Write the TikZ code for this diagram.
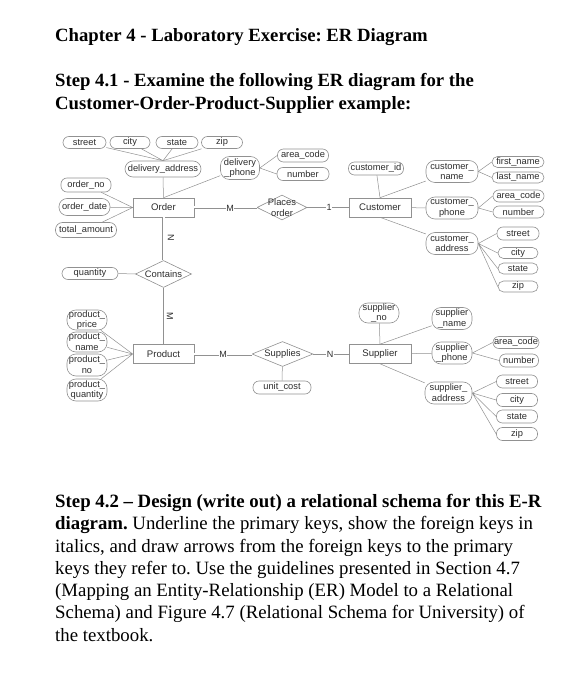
\documentclass[tikz,border=0pt]{standalone}
\usepackage{fontspec}
\setmainfont{Liberation Serif}
\setsansfont{Liberation Sans}
\usepackage{tikz}
\usetikzlibrary{shapes.geometric, positioning}
\definecolor{erline}{RGB}{145,145,145}
\definecolor{ertext}{RGB}{45,45,45}
\frenchspacing

\begin{document}
\begin{tikzpicture}[x=1pt,y=-1pt,
    ent/.style={rectangle,draw=erline,fill=white,line width=0.6pt,minimum width=61pt,minimum height=19pt,inner sep=0pt,font=\sffamily\fontsize{9.6}{10}\selectfont,text=ertext},
    rel/.style={diamond,draw=erline,fill=white,line width=0.6pt,inner sep=0pt},
    reltext/.style={font=\sffamily\fontsize{9.4}{10.5}\selectfont,text=ertext,align=center,inner sep=0pt},
    attr/.style={rectangle,rounded corners=6pt,draw=erline,fill=white,line width=0.6pt,minimum height=13pt,inner sep=0.3pt,font=\sffamily\fontsize{9.3}{10.8}\selectfont,text=ertext},
    attrtwo/.style={attr,rounded corners=9pt,minimum height=22pt,align=center},
    link/.style={draw=erline,line width=0.5pt},
    total/.style={link,double,double distance=2pt},
    card/.style={font=\sffamily\fontsize{9}{10}\selectfont,text=ertext,fill=white,inner sep=0.5pt},
    heading/.style={anchor=north west,inner sep=0pt,align=left,font=\bfseries\fontsize{18.7}{23}\selectfont}]
    \fill[white] (0,0) rectangle (569,700);
    \useasboundingbox (0,0) rectangle (569,700);

    % Testo
    \node[heading] (chapter) at (55,28) {Chapter 4 - Laboratory Exercise: ER Diagram};
    \node[heading] (step41) at (55,73) {Step 4.1 - Examine the following ER diagram for the\\Customer-Order-Product-Supplier example:};
    \node[heading,font=\fontsize{18.8}{22.3}\selectfont] (step42) at (55,494) {\textbf{Step 4.2 – Design (write out) a relational schema for this E-R}\\
        \textbf{diagram.} Underline the primary keys, show the foreign keys in\\
        italics, and draw arrows from the foreign keys to the primary\\
        keys they refer to. Use the guidelines presented in Section 4.7\\
        (Mapping an Entity-Relationship (ER) Model to a Relational\\
        Schema) and Figure 4.7 (Relational Schema for University) of\\
        the textbook.};

    % Entita
    \node[ent] (order) at (163.5,207.5) {Order};
    \node[ent,minimum width=62pt] (customer) at (380,207.5) {Customer};
    \node[ent] (product) at (163.5,354) {Product};
    \node[ent,minimum width=62pt] (supplier) at (380,354) {Supplier};

    % Relazioni
    \node[rel,minimum width=50pt,minimum height=25pt] (places) at (282,207.5) {};
    \node[reltext] (placesname) at (places) {Places\\order};
    \node[rel,minimum width=56pt,minimum height=27pt] (contains) at (163.5,274) {};
    \node[reltext] (containsname) at (contains) {Contains};
    \node[rel,minimum width=61pt,minimum height=25pt] (supplies) at (282.5,354) {};
    \node[reltext] (suppliesname) at (supplies) {Supplies};

    % Attributi di Order
    \node[attr,minimum width=43pt,minimum height=12pt] (street1) at (84.5,142.5) {street};
    \node[attr,minimum width=40pt,minimum height=12pt] (city1) at (130,142.5) {city};
    \node[attr,minimum width=42pt,minimum height=12pt] (state1) at (177,142.5) {state};
    \node[attr,minimum width=41pt,minimum height=12pt] (zip1) at (222,142.5) {zip};
    \node[attr,minimum width=76pt,minimum height=16pt,rounded corners=8pt] (deladdr) at (163,169) {delivery\_address};
    \node[attrtwo,minimum width=39pt,minimum height=23pt] (delphone) at (240,168) {delivery\\\_phone};
    \node[attr,minimum width=51pt] (areacode1) at (303,155.5) {area\_code};
    \node[attr,minimum width=52pt] (number1) at (303,174) {number};
    \node[attr,minimum width=50pt,minimum height=14pt] (orderno) at (86,185) {order\_no};
    \node[attr,minimum width=51pt,minimum height=17pt,rounded corners=8pt] (orderdate) at (84.5,207) {order\_date};
    \node[attr,minimum width=61pt,minimum height=15pt,rounded corners=7pt] (totalamount) at (86,230) {total\_amount};

    % Attributi di Customer
    \node[attr,minimum width=55pt] (customerid) at (376,168.5) {customer\_id};
    \node[attrtwo,minimum width=52pt] (custname) at (452,171.5) {customer\_\\name};
    \node[attrtwo,minimum width=52pt] (custphone) at (452,208) {customer\_\\phone};
    \node[attrtwo,minimum width=52pt] (custaddr) at (452,243.5) {customer\_\\address};
    \node[attr,minimum width=52pt,minimum height=11pt,rounded corners=5.5pt] (firstname) at (518,162) {first\_name};
    \node[attr,minimum width=52pt,minimum height=11pt,rounded corners=5.5pt] (lastname) at (518,177.5) {last\_name};
    \node[attr,minimum width=51pt,minimum height=12pt] (areacode2) at (518.5,196) {area\_code};
    \node[attr,minimum width=51pt,minimum height=12pt] (number2) at (518.5,212) {number};
    \node[attr,minimum width=42pt] (street2) at (518,233.5) {street};
    \node[attr,minimum width=40pt,minimum height=11pt,rounded corners=5.5pt] (city2) at (518,253) {city};
    \node[attr,minimum width=40pt,minimum height=11pt,rounded corners=5.5pt] (state2) at (518,268.5) {state};
    \node[attr,minimum width=40pt,minimum height=11pt,rounded corners=5.5pt] (zip2) at (518,286.5) {zip};

    % Attributi di Contains e Product
    \node[attr,minimum width=56pt,minimum height=12pt] (quantity) at (90,273.5) {quantity};
    \node[attrtwo,minimum width=40pt,minimum height=20pt] (prodprice) at (87,320) {product\_\\price};
    \node[attrtwo,minimum width=40pt,minimum height=20pt] (prodname) at (87,342) {product\_\\name};
    \node[attrtwo,minimum width=40pt] (prodno) at (87,365) {product\_\\no};
    \node[attrtwo,minimum width=40pt] (prodqty) at (87,390) {product\_\\quantity};

    % Attributi di Supplies e Supplier
    \node[attr,minimum width=58pt] (unitcost) at (282,387.5) {unit\_cost};
    \node[attrtwo,minimum width=40pt,minimum height=20pt] (supplierno) at (379,313) {supplier\\\_no};
    \node[attrtwo,minimum width=40pt] (suppliername) at (452,318.5) {supplier\\\_name};
    \node[attrtwo,minimum width=40pt] (supplierphone) at (452,353) {supplier\\\_phone};
    \node[attrtwo,minimum width=47pt] (supplieraddr) at (448.5,393) {supplier\_\\address};
    \node[attr,minimum width=46pt,minimum height=12pt] (areacode3) at (516,342.5) {area\_code};
    \node[attr,minimum width=39pt] (number3) at (519,360.5) {number};
    \node[attr,minimum width=41pt] (street3) at (517,381.5) {street};
    \node[attr,minimum width=41pt] (city3) at (517,400) {city};
    \node[attr,minimum width=41pt] (state3) at (517,416.5) {state};
    \node[attr,minimum width=41pt] (zip3) at (517,434) {zip};

    % Collegamenti
    \draw[link] (street1) -- (deladdr.north) (city1) -- (deladdr.north) (state1) -- (deladdr.north) (zip1) -- (deladdr.north);
    \draw[link] (deladdr) -- (order);
    \draw[link] (delphone) -- (order.north);
    \draw[link] (delphone.east) -- (areacode1.west) (delphone.east) -- (number1.west);
    \draw[link] (orderno) -- (order.west) (orderdate) -- (order.west) (totalamount) -- (order.west);
    \draw[total] (order) -- (places);
    \draw[link] (places) -- (customer);
    \draw[link] (customerid) -- (customer.north) (custname) -- (customer.north);
    \draw[link] (customer) -- (custphone);
    \draw[link] (customer.south) -- (custaddr);
    \draw[link] (custname.east) -- (firstname.west) (custname.east) -- (lastname.west);
    \draw[link] (custphone.east) -- (areacode2.west) (custphone.east) -- (number2.west);
    \draw[link] (custaddr.east) -- (street2.west) (custaddr.east) -- (city2.west) (custaddr.east) -- (state2.west) (custaddr.east) -- (zip2.west);
    \draw[total] (order) -- (contains);
    \draw[link] (quantity) -- (contains);
    \draw[link] (contains) -- (product);
    \draw[link] (prodprice) -- (product.west) (prodname) -- (product.west) (prodno) -- (product.west) (prodqty) -- (product.west);
    \draw[total] (product) -- (supplies);
    \draw[link] (supplies) -- (unitcost);
    \draw[link] (supplies) -- (supplier);
    \draw[link] (supplierno) -- (supplier.north) (suppliername) -- (supplier.north);
    \draw[link] (supplier) -- (supplierphone);
    \draw[link] (supplier.south) -- (supplieraddr);
    \draw[link] (supplierphone.east) -- (areacode3.west) (supplierphone.east) -- (number3.west);
    \draw[link] (supplieraddr.east) -- (street3.west) (supplieraddr.east) -- (city3.west) (supplieraddr.east) -- (state3.west) (supplieraddr.east) -- (zip3.west);

    % Cardinalita
    \node[card] (cardorder) at (230,208) {M};
    \node[card] (cardcustomer) at (329,207.5) {1};
    \node[card,fill=none,rotate=-90] (cardcontains) at (171,238) {N};
    \node[card,fill=none,rotate=-90] (cardproduct) at (170,316) {M};
    \node[card] (cardsupplies) at (223,354) {M};
    \node[card] (cardsupplier) at (330,354) {N};
\end{tikzpicture}
\end{document}
